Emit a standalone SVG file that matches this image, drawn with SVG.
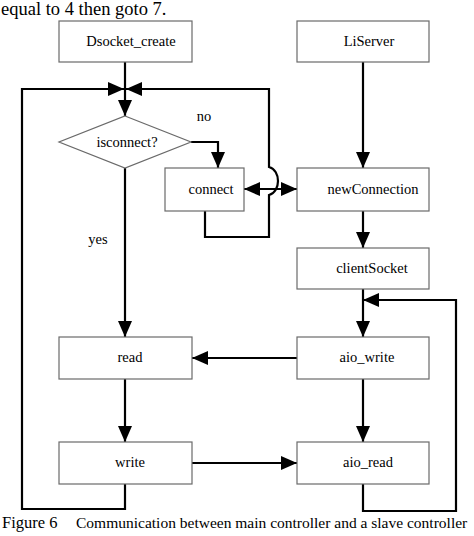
<svg xmlns="http://www.w3.org/2000/svg" width="474" height="536" viewBox="0 0 474 536">
<style>
.box{fill:#fff;stroke:#6a6a6a;stroke-width:1.2}
.lbl{font-family:'Liberation Serif','Times New Roman',Times,serif;font-size:14.5px;fill:#000;text-anchor:middle}
.txt{font-family:'Liberation Serif','Times New Roman',Times,serif;fill:#000}
.con{fill:none;stroke:#000;stroke-width:2.2}
</style>
<defs>
<marker id="ah" markerUnits="userSpaceOnUse" markerWidth="17" markerHeight="14" refX="16" refY="7" orient="auto-start-reverse">
<path d="M0,0 L16,7 L0,14 z" fill="#000"/>
</marker>
</defs>
<rect width="474" height="536" fill="#fff"/>
<text class="txt" x="1" y="15" font-size="18.5">equal to 4 then goto 7.</text>
<g id="connectors">
<path class="con" d="M125,62 V116" marker-end="url(#ah)"/>
<path class="con" d="M125,484 V509 H22 V89 H124" marker-end="url(#ah)"/>
<path class="con" d="M205,211 V237 H269 V195 C281,192 281,170 269,167 V89 H126" marker-end="url(#ah)"/>
<path class="con" d="M191,142 H218 V168" marker-end="url(#ah)"/>
<path class="con" d="M244,189 H297" marker-start="url(#ah)" marker-end="url(#ah)"/>
<path class="con" d="M363,62 V168" marker-end="url(#ah)"/>
<path class="con" d="M363,211 V248" marker-end="url(#ah)"/>
<path class="con" d="M363,289 V337" marker-end="url(#ah)"/>
<path class="con" d="M297,358 H192" marker-end="url(#ah)"/>
<path class="con" d="M125,168 V337" marker-end="url(#ah)"/>
<path class="con" d="M125,379 V442" marker-end="url(#ah)"/>
<path class="con" d="M363,379 V442" marker-end="url(#ah)"/>
<path class="con" d="M192,463 H297" marker-end="url(#ah)"/>
<path class="con" d="M363,484 V511 H456 V300 H363" marker-end="url(#ah)"/>
</g>
<g id="dsocket_create"><rect class="box" x="59" y="21" width="133" height="41"/><text class="lbl" x="131" y="46">Dsocket_create</text></g>
<g id="liserver"><rect class="box" x="297" y="21" width="132" height="41"/><text class="lbl" x="369" y="46">LiServer</text></g>
<g id="isconnect"><path class="box" d="M125,116 L191,142 L125,168 L59,142 z"/><text class="lbl" x="127" y="147">isconnect?</text></g>
<g id="connect"><rect class="box" x="165" y="168" width="79" height="43"/><text class="lbl" x="211" y="194">connect</text></g>
<g id="newconnection"><rect class="box" x="297" y="168" width="132" height="43"/><text class="lbl" x="373" y="194">newConnection</text></g>
<g id="clientsocket"><rect class="box" x="297" y="248" width="132" height="41"/><text class="lbl" x="372" y="273">clientSocket</text></g>
<g id="read"><rect class="box" x="59" y="337" width="133" height="42"/><text class="lbl" x="130" y="362">read</text></g>
<g id="aio_write"><rect class="box" x="297" y="337" width="132" height="42"/><text class="lbl" x="367" y="362">aio_write</text></g>
<g id="write"><rect class="box" x="59" y="442" width="133" height="42"/><text class="lbl" x="130" y="467">write</text></g>
<g id="aio_read"><rect class="box" x="297" y="442" width="132" height="42"/><text class="lbl" x="368" y="467">aio_read</text></g>
<text class="lbl" x="204" y="121">no</text>
<text class="lbl" x="98" y="244">yes</text>
<text class="txt" x="2" y="528" font-size="16.5">Figure 6</text>
<text class="txt" x="76" y="528" font-size="15.5">Communication between main controller and a slave controller</text>
</svg>
